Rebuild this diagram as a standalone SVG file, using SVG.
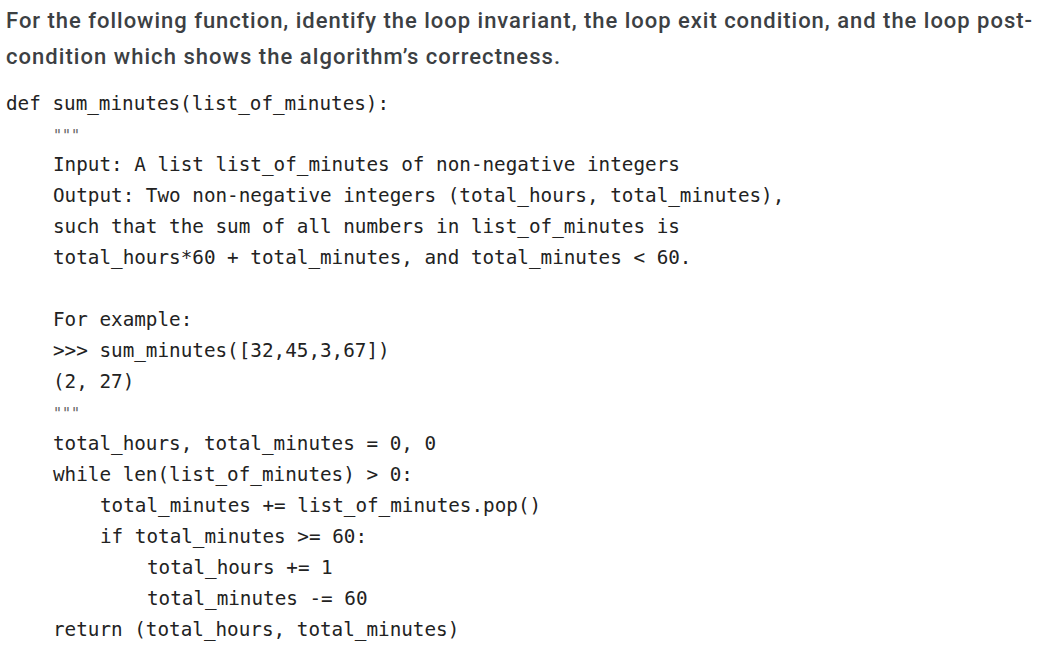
<svg xmlns="http://www.w3.org/2000/svg" width="1062" height="657" viewBox="0 0 1062 657">
<style>
.h{font-family:Roboto,"Liberation Sans",sans-serif;font-weight:500;font-size:22px;fill:#3c4043}
.c{font-family:"DejaVu Sans Mono","Liberation Mono",monospace;font-size:19.3px;fill:#222;white-space:pre}
</style>
<rect width="1062" height="657" fill="#fff"/>
<text class="h" x="6" y="28" textLength="1026" lengthAdjust="spacing">For the following function, identify the loop invariant, the loop exit condition, and the loop post-</text>
<text class="h" x="6" y="64" textLength="554" lengthAdjust="spacing">condition which shows the algorithm’s correctness.</text>
<g class="c">
<text class="c" x="6" y="110">def sum_minutes(list_of_minutes):</text>
<text class="c" x="53" y="141" style="font-size:15px;fill:#666">"""</text>
<text class="c" x="53" y="171">Input: A list list_of_minutes of non-negative integers</text>
<text class="c" x="53" y="202">Output: Two non-negative integers (total_hours, total_minutes),</text>
<text class="c" x="53" y="233">such that the sum of all numbers in list_of_minutes is</text>
<text class="c" x="53" y="264">total_hours*60 + total_minutes, and total_minutes &lt; 60.</text>
<text class="c" x="53" y="326">For example:</text>
<text class="c" x="53" y="357">&gt;&gt;&gt; sum_minutes([32,45,3,67])</text>
<text class="c" x="53" y="388">(2, 27)</text>
<text class="c" x="53" y="419" style="font-size:15px;fill:#666">"""</text>
<text class="c" x="53" y="450">total_hours, total_minutes = 0, 0</text>
<text class="c" x="53" y="481">while len(list_of_minutes) &gt; 0:</text>
<text class="c" x="100" y="512">total_minutes += list_of_minutes.pop()</text>
<text class="c" x="100" y="543">if total_minutes &gt;= 60:</text>
<text class="c" x="147" y="574">total_hours += 1</text>
<text class="c" x="147" y="605">total_minutes -= 60</text>
<text class="c" x="53" y="636">return (total_hours, total_minutes)</text>
</g>
</svg>
